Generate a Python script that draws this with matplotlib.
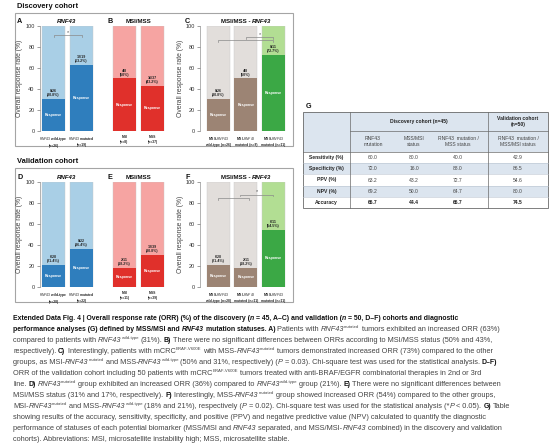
import numpy as np
import matplotlib
matplotlib.use("Agg")
import matplotlib.pyplot as plt
from matplotlib.font_manager import FontProperties
from matplotlib.patches import Rectangle

plt.rcParams['font.family'] = ['Liberation Sans', 'DejaVu Sans']
plt.rcParams['mathtext.fontset'] = 'custom'
plt.rcParams['mathtext.rm'] = 'Liberation Sans'
plt.rcParams['mathtext.it'] = 'Liberation Sans:italic'
plt.rcParams['mathtext.bf'] = 'Liberation Sans:bold'

# ---------------- data ----------------
# discovery cohort (n=45)
disc_rnf_labels = ["$\\mathit{RNF43}$ wild-type\n(n=26)", "$\\mathit{RNF43}$ mutated\n(n=19)"]
disc_rnf_resp = [8, 12]
disc_rnf_n = [26, 19]
disc_msi_labels = ["MSI\n(n=8)", "MSS\n(n=37)"]
disc_msi_resp = [4, 16]
disc_msi_n = [8, 37]
disc_combo_labels = ["MSS-$\\mathit{RNF43}$\nwild-type (n=26)", "MSI-$\\mathit{RNF43}$\nmutated (n=8)",
                     "MSS-$\\mathit{RNF43}$\nmutated (n=11)"]
disc_combo_resp = [8, 4, 8]
disc_combo_n = [26, 8, 11]

# validation cohort (n=50)
val_rnf_labels = ["$\\mathit{RNF43}$ wild-type\n(n=28)", "$\\mathit{RNF43}$ mutated\n(n=22)"]
val_rnf_resp = [6, 8]
val_rnf_n = [28, 22]
val_msi_labels = ["MSI\n(n=11)", "MSS\n(n=39)"]
val_msi_resp = [2, 12]
val_msi_n = [11, 39]
val_combo_labels = ["MSS-$\\mathit{RNF43}$\nwild-type (n=28)", "MSI-$\\mathit{RNF43}$\nmutated (n=11)",
                    "MSS-$\\mathit{RNF43}$\nmutated (n=11)"]
val_combo_resp = [6, 2, 6]
val_combo_n = [28, 11, 11]

# table G
metrics = ["Sensitivity (%)", "Specificity (%)", "PPV (%)", "NPV (%)", "Accuracy"]
rnf43_mut = [60.0, 72.0, 63.2, 69.2, 66.7]
mss_msi = [80.0, 16.0, 43.2, 50.0, 44.4]
rnf43_mss = [40.0, 88.0, 72.7, 64.7, 66.7]
val_combo = [42.9, 86.5, 54.6, 80.0, 74.5]

# caption lines: (text, style) r=regular b=bold i=italic s=superscript
caption = [
    [("Extended Data Fig. 4 | Overall response rate (ORR) (%) of the discovery (", "b"), ("n", "bi"),
     (" = 45, A\u2013C) and validation (", "b"), ("n", "bi"), (" = 50, D\u2013F) cohorts and diagnostic", "b")],
    [("performance analyses (G) defined by MSS/MSI and ", "b"), ("RNF43", "bi"), (" mutation statuses. A)", "b"),
     (" Patients with ", "r"), ("RNF43", "i"), ("mutated", "s"), (" tumors exhibited an increased ORR (63%)", "r")],
    [("compared to patients with ", "r"), ("RNF43", "i"), ("wild-type", "s"), (" (31%). ", "r"), ("B)", "b"),
     (" There were no significant differences between ORRs according to MSI/MSS status (50% and 43%,", "r")],
    [("respectively). ", "r"), ("C)", "b"), (" Interestingly, patients with mCRC", "r"), ("BRAF-V600E", "s"),
     (" with MSS-", "r"), ("RNF43", "i"), ("mutated", "s"),
     (" tumors demonstrated increased ORR (73%) compared to the other", "r")],
    [("groups, as MSI-", "r"), ("RNF43", "i"), ("mutated", "s"), (" and MSS-", "r"), ("RNF43", "i"),
     ("wild-type", "s"), (" (50% and 31%, respectively) (", "r"), ("P", "i"),
     (" = 0.03). Chi-square test was used for the statistical analysis. ", "r"), ("D\u2013F)", "b")],
    [("ORR of the validation cohort including 50 patients with mCRC", "r"), ("BRAF-V600E", "s"),
     (" tumors treated with anti-BRAF/EGFR combinatorial therapies in 2nd or 3rd", "r")],
    [("line. ", "r"), ("D)", "b"), (" ", "r"), ("RNF43", "i"), ("mutated", "s"),
     (" group exhibited an increased ORR (36%) compared to ", "r"), ("RNF43", "i"), ("wild-type", "s"),
     (" group (21%). ", "r"), ("E)", "b"), (" There were no significant differences between", "r")],
    [("MSI/MSS status (31% and 17%, respectively). ", "r"), ("F)", "b"), (" Interestingly, MSS-", "r"),
     ("RNF43", "i"), ("mutated", "s"),
     (" group showed increased ORR (54%) compared to the other groups,", "r")],
    [("MSI-", "r"), ("RNF43", "i"), ("mutated", "s"), (" and MSS-", "r"), ("RNF43", "i"), ("wild-type", "s"),
     (" (18% and 21%), respectively (", "r"), ("P", "i"),
     (" = 0.02). Chi-square test was used for the statistical analysis (*", "r"), ("P", "i"),
     (" < 0.05). ", "r"), ("G)", "b"), (" Table", "r")],
    [("showing results of the accuracy, sensitivity, specificity, and positive (PPV) and negative predictive "
      "value (NPV) calculated to quantify the diagnostic", "r")],
    [("performance of statuses of each potential biomarker (MSS/MSI and ", "r"), ("RNF43", "i"),
     (" separated, and MSS/MSI-", "r"), ("RNF43", "i"), (" combined) in the discovery and validation", "r")],
    [("cohorts). Abbreviations: MSI, microsatellite instability high; MSS, microsatellite stable.", "r")],
]

# colours
rnf_light, rnf_dark = "#a9cfe6", "#2f7ebd"
msi_light, msi_dark = "#f6a4a2", "#e0302b"
grey_light, brown = "#e2dedb", "#9c8474"
green_light, green_dark = "#b2de93", "#3ba845"
table_fill = "#dce5ef"

W, H = 554, 445
fig = plt.figure(figsize=(W / 100, H / 100), dpi=100)
ov = fig.add_axes([0, 0, 1, 1])
ov.set_xlim(0, W)
ov.set_ylim(H, 0)
ov.axis("off")
renderer = fig.canvas.get_renderer()


def px_axes(x0, y0, x1, y1):
    ax = fig.add_axes([x0 / W, 1 - y1 / H, (x1 - x0) / W, (y1 - y0) / H])
    ax.patch.set_alpha(0)
    return ax


def pct_text(p):
    return f"{p:.1f}" if abs(p - round(p)) > 1e-6 else f"{p:.0f}"


def bar_panel(ax, labels, resp, n, lights, darks, show_y, xlim, width):
    x = np.arange(len(resp))
    pct = 100 * np.array(resp) / np.array(n)
    ax.bar(x, 100, width=width, color=lights, edgecolor="#c8c8c8", linewidth=0.3)
    ax.bar(x, pct, width=width, color=darks, linewidth=0)
    for xi, p, r, m in zip(x, pct, resp, n):
        ax.text(xi, p + 1.5, f"{r}/{m}\n({pct_text(p)}%)", ha="center", va="bottom",
                fontsize=2.6, fontweight="bold", color="#222", linespacing=1.1)
        ax.text(xi, p / 2, "Response", ha="center", va="center", fontsize=2.6,
                fontweight="bold", color="white")
    ax.set_ylim(0, 100)
    ax.set_xlim(*xlim)
    ax.set_xticks(x)
    ax.set_xticklabels(labels, fontsize=2.4, fontweight="bold", linespacing=1.25, color="#222")
    ax.tick_params(axis="x", length=0, pad=3)
    for sp in ["top", "right", "bottom"]:
        ax.spines[sp].set_visible(False)
    if show_y:
        ax.set_yticks(range(0, 101, 20))
        ax.tick_params(axis="y", labelsize=4, length=2, width=0.4, pad=1.5,
                       colors="#555", labelcolor="#333")
        ax.spines["left"].set_linewidth(0.4)
        ax.spines["left"].set_color("#777")
        ax.set_ylabel("Overall response rate (%)", fontsize=4.9, color="#444", labelpad=1.5)
    else:
        ax.spines["left"].set_visible(False)
        ax.set_yticks([])


def bracket(ax, x1, x2, y, star=True):
    ax.plot([x1, x1, x2, x2], [y - 1.8, y, y, y - 1.8], color="#8a8a8a", lw=0.5)
    if star:
        ax.text((x1 + x2) / 2, y + 0.3, "*", ha="center", va="bottom", fontsize=4, color="#555")


bold_scale = 1.0


def make_prop(st, size):
    s = size * (bold_scale if "b" in st else 1.0)
    return FontProperties(family="Liberation Sans",
                          weight="bold" if "b" in st else "normal",
                          style="italic" if "i" in st else "normal",
                          size=s * 0.58 if "s" in st else s)


def tw(s, prop):
    return renderer.get_text_width_height_descent(s, prop, ismath=False)[0]


def adv(s, prop):
    return tw("|" + s + "|", prop) - tw("||", prop)


def run_width(runs, size):
    return sum(adv(t, make_prop(st, size)) for t, st in runs)


def draw_runs(x, y, runs, size, ha="left", color="#444444"):
    if ha == "center":
        x -= run_width(runs, size) / 2
    for t, st in runs:
        prop = make_prop(st, size)
        lead = len(t) - len(t.lstrip(" "))
        body = t.strip(" ")
        yy = y - size * 1.389 * 0.4 if "s" in st else y
        c = "#111" if "b" in st else color
        if body:
            ov.text(x + adv(" " * lead, prop), yy, body, fontproperties=prop, color=c,
                    ha="left", va="baseline")
        x += adv(t, prop)


# ---------------- cohort boxes and headings ----------------
for top, bottom, name in [(13, 146, "Discovery cohort"), (168, 302, "Validation cohort")]:
    ov.add_patch(Rectangle((15, top), 278, bottom - top, fill=False, edgecolor="#a5a5a5", lw=0.8))
    ov.text(17, top - 6.5, name, fontsize=5.4, fontweight="bold", ha="left", va="center", color="#111")

rows = [
    (26, 131, "ABC", (disc_rnf_labels, disc_rnf_resp, disc_rnf_n),
     (disc_msi_labels, disc_msi_resp, disc_msi_n), (disc_combo_labels, disc_combo_resp, disc_combo_n)),
    (182, 287, "DEF", (val_rnf_labels, val_rnf_resp, val_rnf_n),
     (val_msi_labels, val_msi_resp, val_msi_n), (val_combo_labels, val_combo_resp, val_combo_n)),
]
for i, (y0, y1, letters, rnf, msi, combo) in enumerate(rows):
    ax1 = px_axes(39.5, y0, 95.5, y1)
    bar_panel(ax1, *rnf, [rnf_light] * 2, [rnf_dark] * 2, True, (-0.5, 1.5), 0.82)
    ax2 = px_axes(110.5, y0, 166.5, y1)
    bar_panel(ax2, *msi, [msi_light] * 2, [msi_dark] * 2, False, (-0.5, 1.5), 0.82)
    ax3 = px_axes(200, y0, 288, y1)
    bar_panel(ax3, *combo, [grey_light, grey_light, green_light], [brown, brown, green_dark],
              True, (-0.67, 2.53), 0.84)
    if i == 0:
        bracket(ax1, 0, 1, 91)
        bracket(ax3, 0, 2, 87, star=False)
        bracket(ax3, 1, 2, 89.5)
    else:
        bracket(ax3, 0, 1.1, 85, star=False)
        bracket(ax3, 0.8, 2, 88)

    ty = y0 - 4.5
    for lx, letter in zip([17, 107, 185], letters):
        ov.text(lx, ty, letter, fontsize=5.2, fontweight="bold", ha="left", va="center", color="#111")
    draw_runs(67, ty + 1.8, [("RNF43", "bi")], 4.4, ha="center")
    draw_runs(138.5, ty + 1.8, [("MSI/MSS", "b")], 4.4, ha="center")
    draw_runs(246, ty + 1.8, [("MSI/MSS - ", "b"), ("RNF43", "bi")], 4.4, ha="center")

# ---------------- table G ----------------
ov.text(306, 106, "G", fontsize=5.2, fontweight="bold", ha="left", va="center", color="#111")
t_left, t_c1, t_sep, t_right = 303, 350, 488, 548
t_top, h1, h2 = 112, 131, 152
row_h = (208 - h2) / len(metrics)
ov.add_patch(Rectangle((t_left, t_top), t_right - t_left, h2 - t_top, color=table_fill, lw=0))
for r in range(len(metrics)):
    if r % 2 == 1:
        ov.add_patch(Rectangle((t_left, h2 + r * row_h), t_right - t_left, row_h, color=table_fill, lw=0))
    if r > 0:
        ov.plot([t_left, t_right], [h2 + r * row_h] * 2, color="#b9c3cf", lw=0.4)
ov.plot([t_c1, t_right], [h1, h1], color="#6a6a6a", lw=0.5)
ov.plot([t_left, t_right], [h2, h2], color="#6a6a6a", lw=0.5)
ov.plot([t_c1, t_c1], [t_top, 208], color="#6a6a6a", lw=0.5)
ov.plot([t_sep, t_sep], [t_top, 208], color="#6a6a6a", lw=0.5)
ov.add_patch(Rectangle((t_left, t_top), t_right - t_left, 208 - t_top, fill=False,
                       edgecolor="#6a6a6a", lw=0.6))

tsize = 3.6
col_x = [373, 414, 458, 518]
ov.text((t_c1 + t_sep) / 2, (t_top + h1) / 2, "Discovery cohort (n=45)", fontsize=tsize,
        fontweight="bold", ha="center", va="center", color="#222")
ov.text(518, (t_top + h1) / 2, "Validation cohort\n(n=50)", fontsize=tsize, fontweight="bold",
        ha="center", va="center", color="#222", linespacing=1.3)
sub_heads = ["RNF43\nmutation", "MSS/MSI\nstatus", "RNF43  mutation /\nMSS status",
             "RNF43  mutation /\nMSS/MSI status"]
for cx, s in zip(col_x, sub_heads):
    ov.text(cx, (h1 + h2) / 2, s, fontsize=tsize, ha="center", va="center", color="#444",
            linespacing=1.3)
for r, (m, a, b, c, d) in enumerate(zip(metrics, rnf43_mut, mss_msi, rnf43_mss, val_combo)):
    yc = h2 + (r + 0.5) * row_h
    ov.text((t_left + t_c1) / 2, yc, m, fontsize=tsize, fontweight="bold", ha="center",
            va="center", color="#222")
    wt = "bold" if m == "Accuracy" else "normal"
    for cx, v in zip(col_x, [a, b, c, d]):
        ov.text(cx, yc, f"{v:.1f}", fontsize=tsize, fontweight=wt, ha="center", va="center",
                color="#222" if wt == "bold" else "#444")

# ---------------- caption ----------------
# fit regular text to line 2 width and the bold heading to line 1 width
cap_size = 5.0
for _ in range(3):
    cap_size *= 495 / run_width(caption[1], cap_size)
    bold_scale *= 452 / run_width(caption[0], cap_size)
for i, runs in enumerate(caption):
    draw_runs(13, 317.7 + 11.03 * i + 2.0, runs, cap_size)

fig.savefig("out.png", dpi=100)
